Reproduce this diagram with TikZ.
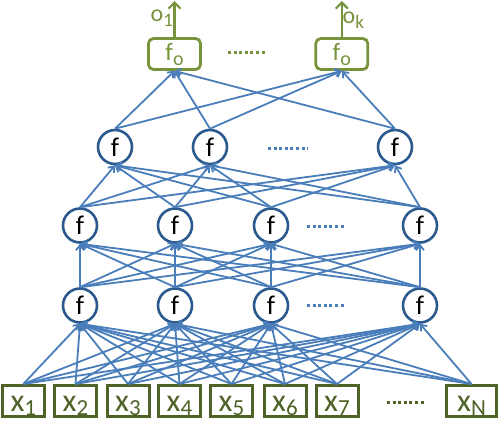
\documentclass[tikz,border=0pt]{standalone}
\usepackage{fontspec}
\setmainfont{Carlito}
\usetikzlibrary{arrows.meta}
\definecolor{lineblue}{HTML}{4A7EBB}
\definecolor{ringblue}{HTML}{2C5A8F}
\definecolor{darkolive}{HTML}{4F6228}
\definecolor{olive}{HTML}{77933C}
\newcommand{\insub}[1]{\raisebox{-4pt}{\fontsize{23}{23}\selectfont #1}}
\newcommand{\fosub}[1]{\raisebox{-5pt}{\fontsize{20}{20}\selectfont #1}}
\newcommand{\olsub}[1]{\raisebox{-5pt}{\fontsize{19}{19}\selectfont #1}}
\begin{document}
\begin{tikzpicture}[x=1pt,y=-1pt,
  neuron/.style={circle, draw=ringblue, line width=2.6pt, fill=white, minimum size=34pt, inner sep=0pt, font=\fontsize{27}{27}\selectfont},
  inbox/.style={rectangle, draw=darkolive, line width=3pt, minimum width=42pt, minimum height=31pt, inner sep=0pt, text=darkolive, text height=24pt, text depth=4pt, font=\fontsize{32}{32}\selectfont},
  outbox/.style={rectangle, rounded corners=5pt, draw=olive, line width=2.8pt, minimum width=52pt, minimum height=31pt, inner sep=0pt, text=olive, font=\fontsize{25}{25}\selectfont},
  conn/.style={draw=lineblue, line width=1.8pt, -{Straight Barb[length=5pt,width=8pt]}},
  outarrow/.style={draw=olive, line width=2.2pt, -{Straight Barb[length=6pt,width=12pt]}},
  olabel/.style={anchor=base west, inner sep=0pt, text=olive, font=\fontsize{24}{24}\selectfont},
  bluedots/.style={draw=lineblue, line width=3pt, dash pattern=on 3pt off 2.6pt},
  greendots/.style={draw=olive, line width=3pt, dash pattern=on 3pt off 2.6pt},
  darkdots/.style={draw=darkolive, line width=3pt, dash pattern=on 3pt off 2.6pt}
]
\useasboundingbox (0,0) rectangle (500,421);

% input boxes
\node[inbox] (i1) at (23.3,401) {x\insub{1}};
\node[inbox] (i2) at (75.5,401) {x\insub{2}};
\node[inbox] (i3) at (128,401) {x\insub{3}};
\node[inbox] (i4) at (179.5,401) {x\insub{4}};
\node[inbox] (i5) at (231.5,401) {x\insub{5}};
\node[inbox] (i6) at (285,401) {x\insub{6}};
\node[inbox] (i7) at (337,401) {x\insub{7}};
\node[inbox, minimum width=50pt] (i8) at (471.5,401) {x\insub{N}};

% hidden layers
\node[neuron] (a1) at (80,305.5) {f};
\node[neuron] (a2) at (175,305.5) {f};
\node[neuron] (a3) at (271,305.5) {f};
\node[neuron] (a4) at (420,305.5) {f};

\node[neuron] (b1) at (80,225.5) {f};
\node[neuron] (b2) at (175,225.5) {f};
\node[neuron] (b3) at (271,225.5) {f};
\node[neuron] (b4) at (420,225.5) {f};

\node[neuron] (c1) at (115,147) {f};
\node[neuron] (c2) at (210,147) {f};
\node[neuron] (c3) at (395,147) {f};

% output boxes
\node[outbox] (d1) at (174.5,54) {f\fosub{o}};
\node[outbox] (d2) at (341.8,54) {f\fosub{o}};

% connections
\foreach \s in {1,...,8}
  \foreach \t in {1,...,4}
    \draw[conn] (i\s.north) -- (a\t.south);
\foreach \s in {1,...,4}
  \foreach \t in {1,...,4}
    \draw[conn] (a\s.north) -- (b\t.south);
\foreach \s in {1,...,4}
  \foreach \t in {1,...,3}
    \draw[conn] (b\s.north) -- (c\t.south);
\foreach \s in {1,...,3}
  \foreach \t in {1,2}
    \draw[conn] (c\s.north) -- (d\t.south);

% outputs
\coordinate (e1) at (174.5,1);
\coordinate (e2) at (341.8,1);
\draw[outarrow] (d1.north) -- (e1);
\draw[outarrow] (d2.north) -- (e2);
\node[olabel] (l1) at (150.5,21.5) {o\olsub{1}};
\node[olabel] (l2) at (342.5,23) {o\olsub{k}};

% ellipses
\draw[bluedots] (307,305) -- (346,305);
\draw[bluedots] (307,226) -- (346,226);
\draw[bluedots] (268,148) -- (308,148);
\draw[greendots] (228,52) -- (267,52);
\draw[darkdots] (387,402) -- (425,402);
\end{tikzpicture}
\end{document}
